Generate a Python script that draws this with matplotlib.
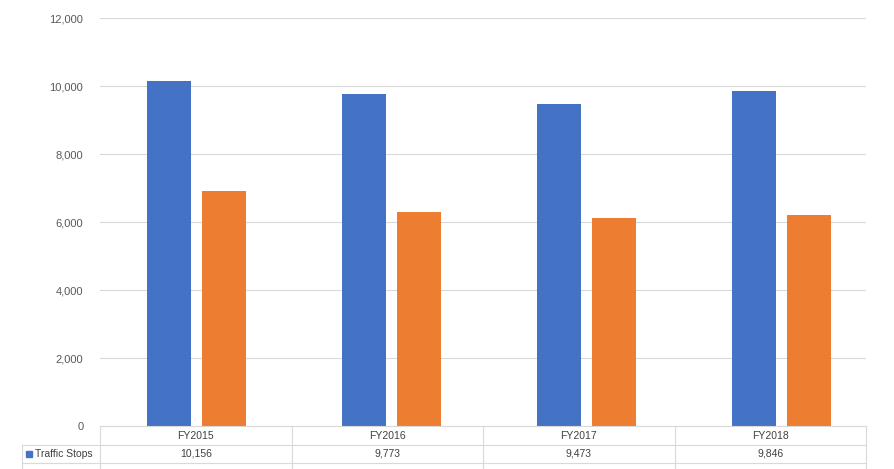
import matplotlib
matplotlib.use("Agg")
import matplotlib.pyplot as plt
import numpy as np

plt.rcParams['font.family'] = ['Liberation Sans', 'DejaVu Sans']

categories = ["FY2015", "FY2016", "FY2017", "FY2018"]
traffic_stops = [10156, 9773, 9473, 9846]
second_series = [6910, 6300, 6120, 6210]
yticks = [0, 2000, 4000, 6000, 8000, 10000, 12000]

W, H = 894, 469
fig = plt.figure(figsize=(W/100, H/100), dpi=100)
L, R, T, B = 100, 866, 18, 426
ax = fig.add_axes([L/W, 1-B/H, (R-L)/W, (B-T)/H])
x = np.arange(len(categories))
bw = 0.226
ax.bar(x-0.146, traffic_stops, bw, color='#4472C4', zorder=3)
ax.bar(x+0.138, second_series, bw, color='#ED7D31', zorder=3)
ax.set_xlim(-0.5, 3.43)
ax.set_ylim(0, 12000)
ax.set_yticks(yticks)
ax.set_yticklabels([f"{v:,}" for v in yticks], color='#595959', fontsize=8)
ax.grid(axis='y', color='#D9D9D9', lw=0.8, zorder=0)
ax.set_xticks([])
for s in ax.spines.values():
    s.set_visible(False)
ax.tick_params(axis='y', length=0, pad=12)

# data table
ov = fig.add_axes([0, 0, 1, 1])
ov.set_xlim(0, W); ov.set_ylim(H, 0); ov.axis('off')
lc = '#D9D9D9'
cols = [L + i*(R-L)/4 for i in range(5)]
ov.plot([L, R], [B, B], color=lc, lw=0.8)
ov.plot([22, R], [445, 445], color=lc, lw=0.8)
ov.plot([22, R], [463, 463], color=lc, lw=0.8)
for cx in cols:
    ov.plot([cx, cx], [B, H], color=lc, lw=0.8)
ov.plot([22, 22], [445, H], color=lc, lw=0.8)
for i, c in enumerate(categories):
    xc = (cols[i]+cols[i+1])/2
    ov.text(xc, 436, c, ha='center', va='center', fontsize=7.5, color='#404040')
    ov.text(xc, 454, f"{traffic_stops[i]:,}", ha='center', va='center', fontsize=7.5, color='#404040')
ov.add_patch(plt.Rectangle((26, 451), 6, 6, color='#4472C4'))
ov.text(35, 454, "Traffic Stops", ha='left', va='center', fontsize=7.5, color='#404040')

fig.savefig("out.png", dpi=100)
